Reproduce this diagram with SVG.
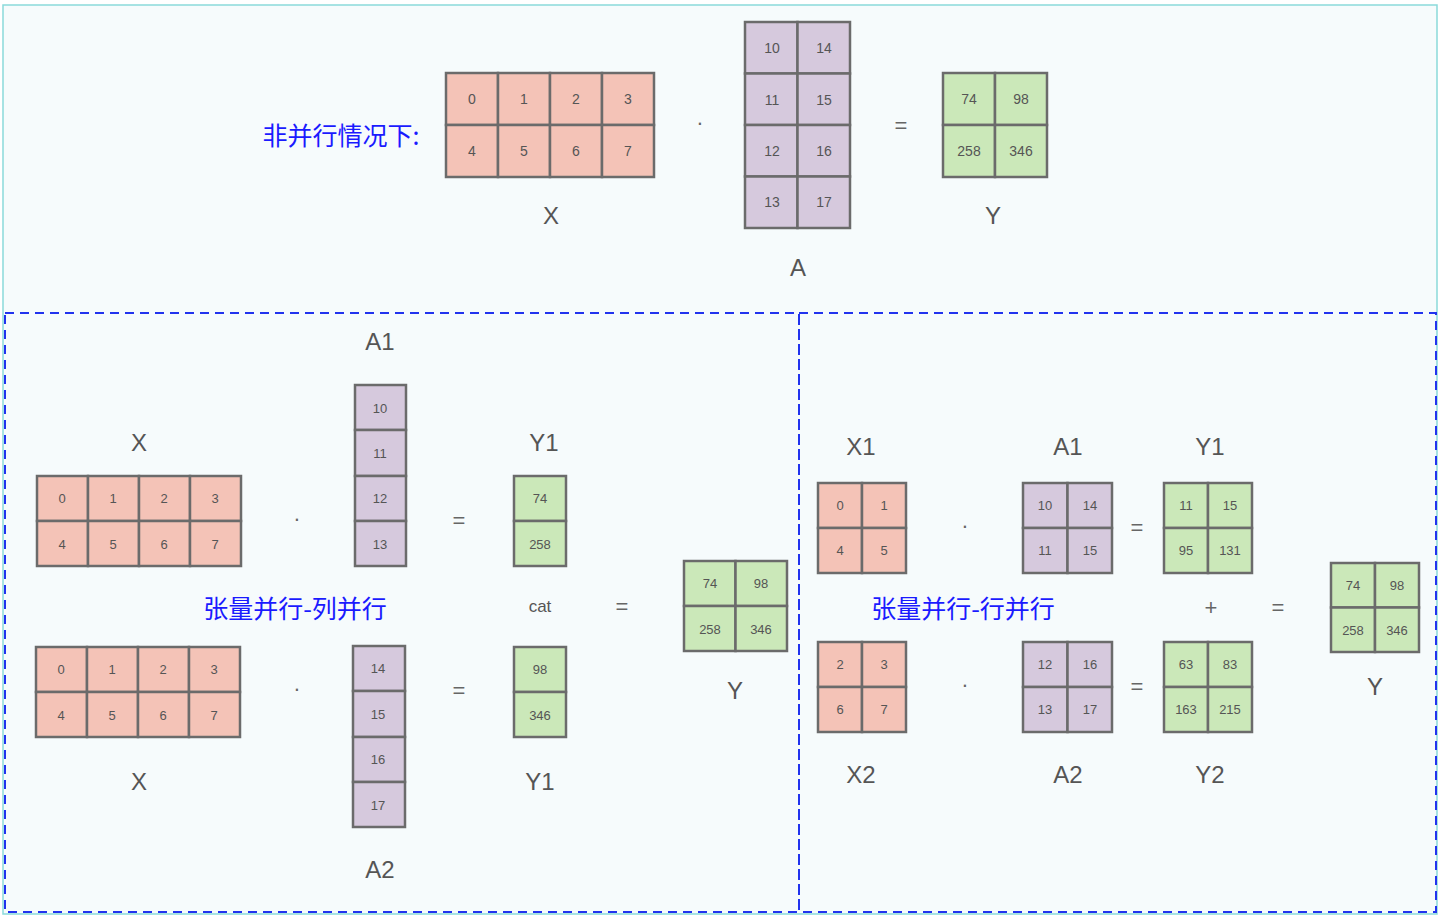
<svg xmlns="http://www.w3.org/2000/svg" width="1440" height="920" viewBox="0 0 1440 920">
<style>
.p{fill:#f4c3b7;stroke:#6b6b6b;stroke-width:2.5}
.u{fill:#d6c9dd;stroke:#6b6b6b;stroke-width:2.5}
.g{fill:#cbe8b9;stroke:#6b6b6b;stroke-width:2.5}
.n{font-family:"Liberation Sans",sans-serif;font-size:14px;fill:#555;text-anchor:middle;dominant-baseline:central}
.s{font-size:13px}
.l{font-family:"Liberation Sans",sans-serif;font-size:24px;fill:#555;text-anchor:middle;dominant-baseline:central}
.o{font-family:"Liberation Sans",sans-serif;font-size:22px;fill:#666;text-anchor:middle;dominant-baseline:central}
.t{font-family:"Noto Sans CJK SC",sans-serif;font-size:25px;fill:#1a1aff;text-anchor:middle;dominant-baseline:central}
.d{fill:none;stroke:#2233ee;stroke-width:2;stroke-dasharray:9,6}
</style>
<rect x="3" y="5" width="1434" height="909" fill="#f6fbfc" stroke="#8adada" stroke-width="1.5"/>
<rect class="d" x="5" y="313" width="794" height="599"/>
<rect class="d" x="799" y="313" width="637" height="599"/>

<!-- top -->
<text class="t" x="341" y="134">非并行情况下:</text>
<g id="topX">
<rect class="p" x="446" y="73" width="52" height="52"/><rect class="p" x="498" y="73" width="52" height="52"/><rect class="p" x="550" y="73" width="52" height="52"/><rect class="p" x="602" y="73" width="52" height="52"/>
<rect class="p" x="446" y="125" width="52" height="52"/><rect class="p" x="498" y="125" width="52" height="52"/><rect class="p" x="550" y="125" width="52" height="52"/><rect class="p" x="602" y="125" width="52" height="52"/>
<text class="n" x="472" y="99">0</text><text class="n" x="524" y="99">1</text><text class="n" x="576" y="99">2</text><text class="n" x="628" y="99">3</text>
<text class="n" x="472" y="151">4</text><text class="n" x="524" y="151">5</text><text class="n" x="576" y="151">6</text><text class="n" x="628" y="151">7</text>
<text class="l" x="551" y="215">X</text>
</g>
<text class="o" x="700" y="122">·</text>
<g id="topA">
<rect class="u" x="745" y="22" width="52.5" height="51.5"/><rect class="u" x="797.5" y="22" width="52.5" height="51.5"/>
<rect class="u" x="745" y="73.5" width="52.5" height="51.5"/><rect class="u" x="797.5" y="73.5" width="52.5" height="51.5"/>
<rect class="u" x="745" y="125" width="52.5" height="51.5"/><rect class="u" x="797.5" y="125" width="52.5" height="51.5"/>
<rect class="u" x="745" y="176.5" width="52.5" height="51.5"/><rect class="u" x="797.5" y="176.5" width="52.5" height="51.5"/>
<text class="n" x="772" y="48">10</text><text class="n" x="824" y="48">14</text>
<text class="n" x="772" y="100">11</text><text class="n" x="824" y="100">15</text>
<text class="n" x="772" y="151">12</text><text class="n" x="824" y="151">16</text>
<text class="n" x="772" y="202">13</text><text class="n" x="824" y="202">17</text>
<text class="l" x="798" y="267">A</text>
</g>
<text class="o" x="901" y="125">=</text>
<g id="topY">
<rect class="g" x="943" y="73" width="52" height="52"/><rect class="g" x="995" y="73" width="52" height="52"/>
<rect class="g" x="943" y="125" width="52" height="52"/><rect class="g" x="995" y="125" width="52" height="52"/>
<text class="n" x="969" y="99">74</text><text class="n" x="1021" y="99">98</text>
<text class="n" x="969" y="151">258</text><text class="n" x="1021" y="151">346</text>
<text class="l" x="993" y="215">Y</text>
</g>

<!-- bottom left -->
<text class="t" x="295" y="607">张量并行-列并行</text>
<g id="blX1">
<rect class="p" x="37" y="476" width="51" height="45"/><rect class="p" x="88" y="476" width="51" height="45"/><rect class="p" x="139" y="476" width="51" height="45"/><rect class="p" x="190" y="476" width="51" height="45"/>
<rect class="p" x="37" y="521" width="51" height="45"/><rect class="p" x="88" y="521" width="51" height="45"/><rect class="p" x="139" y="521" width="51" height="45"/><rect class="p" x="190" y="521" width="51" height="45"/>
<text class="n s" x="62" y="498">0</text><text class="n s" x="113" y="498">1</text><text class="n s" x="164" y="498">2</text><text class="n s" x="215" y="498">3</text>
<text class="n s" x="62" y="544">4</text><text class="n s" x="113" y="544">5</text><text class="n s" x="164" y="544">6</text><text class="n s" x="215" y="544">7</text>
<text class="l" x="139" y="442">X</text>
</g>
<text class="o" x="297" y="518">·</text>
<g id="blA1">
<rect class="u" x="355" y="385" width="51" height="45"/><rect class="u" x="355" y="430" width="51" height="46"/><rect class="u" x="355" y="476" width="51" height="45"/><rect class="u" x="355" y="521" width="51" height="45"/>
<text class="n s" x="380" y="408">10</text><text class="n s" x="380" y="453">11</text><text class="n s" x="380" y="498">12</text><text class="n s" x="380" y="544">13</text>
<text class="l" x="380" y="341">A1</text>
</g>
<text class="o" x="459" y="520">=</text>
<g id="blY1">
<rect class="g" x="514" y="476" width="52" height="45"/><rect class="g" x="514" y="521" width="52" height="45"/>
<text class="n s" x="540" y="498">74</text><text class="n s" x="540" y="544">258</text>
<text class="l" x="544" y="442">Y1</text>
</g>
<g id="blX2">
<rect class="p" x="36" y="647" width="51" height="45"/><rect class="p" x="87" y="647" width="51" height="45"/><rect class="p" x="138" y="647" width="51" height="45"/><rect class="p" x="189" y="647" width="51" height="45"/>
<rect class="p" x="36" y="692" width="51" height="45"/><rect class="p" x="87" y="692" width="51" height="45"/><rect class="p" x="138" y="692" width="51" height="45"/><rect class="p" x="189" y="692" width="51" height="45"/>
<text class="n s" x="61" y="669">0</text><text class="n s" x="112" y="669">1</text><text class="n s" x="163" y="669">2</text><text class="n s" x="214" y="669">3</text>
<text class="n s" x="61" y="715">4</text><text class="n s" x="112" y="715">5</text><text class="n s" x="163" y="715">6</text><text class="n s" x="214" y="715">7</text>
<text class="l" x="139" y="781">X</text>
</g>
<text class="o" x="297" y="688">·</text>
<g id="blA2">
<rect class="u" x="353" y="646" width="52" height="45"/><rect class="u" x="353" y="691" width="52" height="46"/><rect class="u" x="353" y="737" width="52" height="45"/><rect class="u" x="353" y="782" width="52" height="45"/>
<text class="n s" x="378" y="668">14</text><text class="n s" x="378" y="714">15</text><text class="n s" x="378" y="759">16</text><text class="n s" x="378" y="805">17</text>
<text class="l" x="380" y="869">A2</text>
</g>
<text class="o" x="459" y="690">=</text>
<g id="blY2">
<rect class="g" x="514" y="647" width="52" height="45"/><rect class="g" x="514" y="692" width="52" height="45"/>
<text class="n s" x="540" y="669">98</text><text class="n s" x="540" y="715">346</text>
<text class="l" x="540" y="781">Y1</text>
</g>
<text class="n" x="540" y="606" style="font-size:17px">cat</text>
<text class="o" x="622" y="606">=</text>
<g id="blY">
<rect class="g" x="684" y="561" width="51.5" height="45"/><rect class="g" x="735.5" y="561" width="51.5" height="45"/>
<rect class="g" x="684" y="606" width="51.5" height="45"/><rect class="g" x="735.5" y="606" width="51.5" height="45"/>
<text class="n s" x="710" y="583">74</text><text class="n s" x="761" y="583">98</text>
<text class="n s" x="710" y="629">258</text><text class="n s" x="761" y="629">346</text>
<text class="l" x="735" y="690">Y</text>
</g>

<!-- bottom right -->
<text class="t" x="963" y="607">张量并行-行并行</text>
<g id="brX1">
<rect class="p" x="818" y="483" width="44" height="45"/><rect class="p" x="862" y="483" width="44" height="45"/>
<rect class="p" x="818" y="528" width="44" height="45"/><rect class="p" x="862" y="528" width="44" height="45"/>
<text class="n s" x="840" y="505">0</text><text class="n s" x="884" y="505">1</text><text class="n s" x="840" y="550">4</text><text class="n s" x="884" y="550">5</text>
<text class="l" x="861" y="446">X1</text>
</g>
<text class="o" x="965" y="525">·</text>
<g id="brA1">
<rect class="u" x="1023" y="483" width="44.5" height="45"/><rect class="u" x="1067.5" y="483" width="44.5" height="45"/>
<rect class="u" x="1023" y="528" width="44.5" height="45"/><rect class="u" x="1067.5" y="528" width="44.5" height="45"/>
<text class="n s" x="1045" y="505">10</text><text class="n s" x="1090" y="505">14</text><text class="n s" x="1045" y="550">11</text><text class="n s" x="1090" y="550">15</text>
<text class="l" x="1068" y="446">A1</text>
</g>
<text class="o" x="1137" y="527">=</text>
<g id="brY1">
<rect class="g" x="1164" y="483" width="44" height="45"/><rect class="g" x="1208" y="483" width="44" height="45"/>
<rect class="g" x="1164" y="528" width="44" height="45"/><rect class="g" x="1208" y="528" width="44" height="45"/>
<text class="n s" x="1186" y="505">11</text><text class="n s" x="1230" y="505">15</text><text class="n s" x="1186" y="550">95</text><text class="n s" x="1230" y="550">131</text>
<text class="l" x="1210" y="446">Y1</text>
</g>
<g id="brX2">
<rect class="p" x="818" y="642" width="44" height="45"/><rect class="p" x="862" y="642" width="44" height="45"/>
<rect class="p" x="818" y="687" width="44" height="45"/><rect class="p" x="862" y="687" width="44" height="45"/>
<text class="n s" x="840" y="664">2</text><text class="n s" x="884" y="664">3</text><text class="n s" x="840" y="709">6</text><text class="n s" x="884" y="709">7</text>
<text class="l" x="861" y="774">X2</text>
</g>
<text class="o" x="965" y="684">·</text>
<g id="brA2">
<rect class="u" x="1023" y="642" width="44.5" height="45"/><rect class="u" x="1067.5" y="642" width="44.5" height="45"/>
<rect class="u" x="1023" y="687" width="44.5" height="45"/><rect class="u" x="1067.5" y="687" width="44.5" height="45"/>
<text class="n s" x="1045" y="664">12</text><text class="n s" x="1090" y="664">16</text><text class="n s" x="1045" y="709">13</text><text class="n s" x="1090" y="709">17</text>
<text class="l" x="1068" y="774">A2</text>
</g>
<text class="o" x="1137" y="686">=</text>
<g id="brY2">
<rect class="g" x="1164" y="642" width="44" height="45"/><rect class="g" x="1208" y="642" width="44" height="45"/>
<rect class="g" x="1164" y="687" width="44" height="45"/><rect class="g" x="1208" y="687" width="44" height="45"/>
<text class="n s" x="1186" y="664">63</text><text class="n s" x="1230" y="664">83</text><text class="n s" x="1186" y="709">163</text><text class="n s" x="1230" y="709">215</text>
<text class="l" x="1210" y="774">Y2</text>
</g>
<text class="o" x="1211" y="607">+</text>
<text class="o" x="1278" y="607">=</text>
<g id="brY">
<rect class="g" x="1331" y="563" width="44" height="44.5"/><rect class="g" x="1375" y="563" width="44" height="44.5"/>
<rect class="g" x="1331" y="607.5" width="44" height="44.5"/><rect class="g" x="1375" y="607.5" width="44" height="44.5"/>
<text class="n s" x="1353" y="585">74</text><text class="n s" x="1397" y="585">98</text><text class="n s" x="1353" y="630">258</text><text class="n s" x="1397" y="630">346</text>
<text class="l" x="1375" y="686">Y</text>
</g>
<g id="connectors"></g>
</svg>
